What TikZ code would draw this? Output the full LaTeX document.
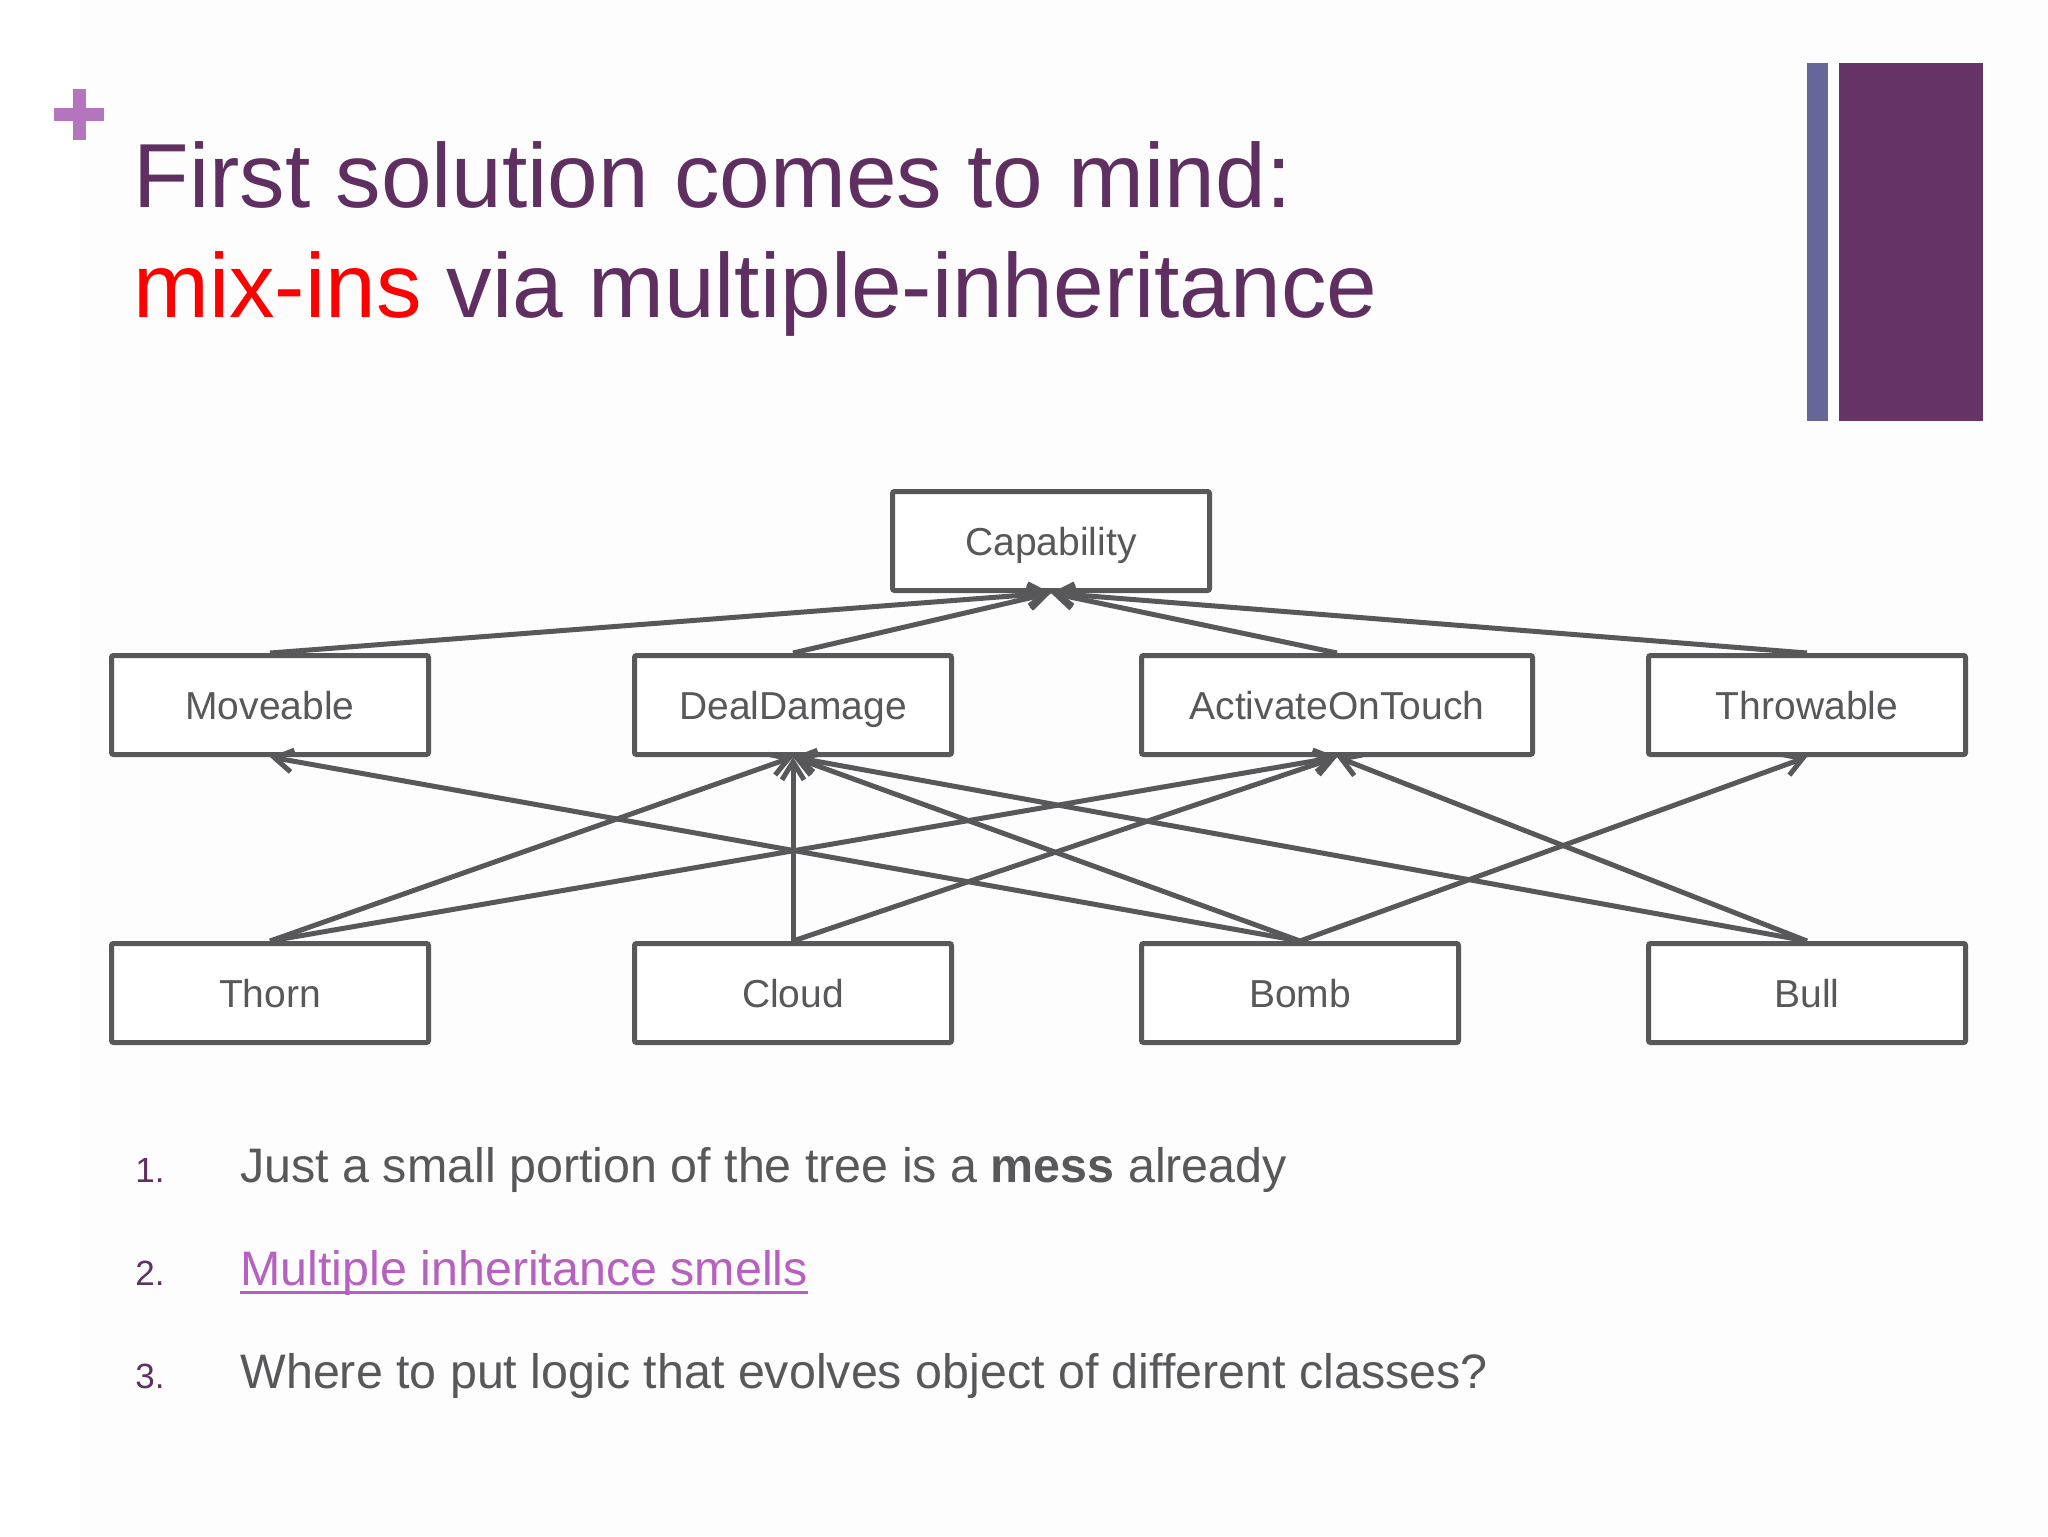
\documentclass[tikz,border=0pt]{standalone}
\usepackage{fontspec}
\setmainfont{Liberation Sans}
\usetikzlibrary{arrows.meta}
\definecolor{titlepurple}{HTML}{5E2F60}
\definecolor{plusc}{HTML}{B574BE}
\definecolor{barblue}{HTML}{676699}
\definecolor{barpurple}{HTML}{663366}
\definecolor{linec}{HTML}{58575A}
\definecolor{textc}{HTML}{58585B}
\definecolor{linkc}{HTML}{B660C0}
\definecolor{panelc}{HTML}{FDFDFD}
\tikzset{
  classbox/.style={draw=linec, line width=2.5pt, rounded corners=1pt, fill=white,
    minimum width=158.5pt, minimum height=49.5pt, inner sep=0pt,
    text height=14pt, text depth=0pt,
    font=\fontsize{19.5pt}{23pt}\selectfont, text=textc},
  widebox/.style={classbox, minimum width=195.5pt},
  conn/.style={draw=linec, line width=2.5pt, -{Straight Barb[length=9pt,width=11pt,line width=2.5pt]}},
  titletext/.style={anchor=base west, inner sep=0pt, font=\fontsize{45.5pt}{54pt}\selectfont, text=titlepurple},
  numtext/.style={anchor=base west, inner sep=0pt, font=\fontsize{17.5pt}{21pt}\selectfont, text=titlepurple},
  bodytext/.style={anchor=base west, inner sep=0pt, font=\fontsize{24.2pt}{29pt}\selectfont, text=textc}
}
\begin{document}
\begin{tikzpicture}[x=0.5pt,y=-0.5pt]
\useasboundingbox (0,0) rectangle (2048,1536);
\fill[white] (0,0) rectangle (2048,1536);
\fill[panelc] (80,0) rectangle (2048,1536);
% plus sign
\fill[plusc] (73,89) rectangle (86,140);
\fill[plusc] (54,108) rectangle (104,121);
% right bars
\fill[barblue] (1807,63) rectangle (1828,421);
\fill[barpurple] (1839,63) rectangle (1983,421);
% title
\node[titletext] (t1) at (133,207) {First solution comes to mind:};
\node[titletext] (t2) at (133,317) {\textcolor{red}{mix-ins} via multiple-inheritance};
% boxes
\node[classbox] (cap) at (1051,541) {Capability};
\node[classbox] (mov) at (270,705) {Moveable};
\node[classbox] (deal) at (793,705) {DealDamage};
\node[widebox] (aot) at (1337,705) {ActivateOnTouch};
\node[classbox] (thr) at (1807,705) {Throwable};
\node[classbox] (thorn) at (270,993) {Thorn};
\node[classbox] (cloud) at (793,993) {Cloud};
\node[classbox] (bomb) at (1300,993) {Bomb};
\node[classbox] (bull) at (1807,993) {Bull};
% connectors to Capability
\draw[conn] (mov.north) -- (cap.south);
\draw[conn] (deal.north) -- (cap.south);
\draw[conn] (aot.north) -- (cap.south);
\draw[conn] (thr.north) -- (cap.south);
% connectors from leaves
\draw[conn] (thorn.north) -- (deal.south);
\draw[conn] (thorn.north) -- (aot.south);
\draw[conn] (cloud.north) -- (deal.south);
\draw[conn] (cloud.north) -- (aot.south);
\draw[conn] (bomb.north) -- (mov.south);
\draw[conn] (bomb.north) -- (deal.south);
\draw[conn] (bomb.north) -- (thr.south);
\draw[conn] (bull.north) -- (deal.south);
\draw[conn] (bull.north) -- (aot.south);
% list
\node[numtext] (n1) at (135,1182) {1.};
\node[numtext] (n2) at (135,1285) {2.};
\node[numtext] (n3) at (135,1388) {3.};
\node[bodytext] (l1) at (240,1182) {Just a small portion of the tree is a \textbf{mess} already};
\node[bodytext, text=linkc] (l2) at (240,1285) {Multiple inheritance smells};
\draw[linkc, line width=1.5pt] ([yshift=-3.5pt]l2.base west) -- ([yshift=-3.5pt]l2.base east);
\node[bodytext] (l3) at (240,1388) {Where to put logic that evolves object of different classes?};
\end{tikzpicture}
\end{document}
